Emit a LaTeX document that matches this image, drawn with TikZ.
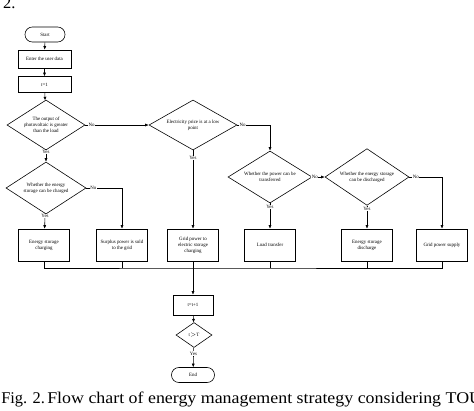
\documentclass[tikz,border=0pt]{standalone}
\usepackage{fontspec}
\setmainfont{Liberation Serif}
\usetikzlibrary{shapes.geometric,arrows.meta}
\newcommand{\boxfont}{\fontsize{4.2}{5}\selectfont}
\begin{document}
\begin{tikzpicture}[x=0.03cm,y=-0.03cm,line width=0.5pt,
  proc/.style={draw,rectangle,minimum width=1.53cm,minimum height=0.96cm,align=center,inner sep=1pt,font=\boxfont},
  term/.style={draw,rectangle,rounded corners=0.22cm,minimum width=1.2cm,minimum height=0.45cm,font=\boxfont},
  dec/.style={draw,diamond,aspect=1.55,inner sep=0pt,align=center,font=\boxfont},
  lab/.style={font=\boxfont,fill=white,inner sep=0.4pt},
  flow/.style={-{Latex[length=3pt,width=2.6pt]}}]
\useasboundingbox (0,0) rectangle (474,410);
\node[anchor=base west,font=\fontsize{14}{17}\selectfont](figTop) at (-1,8) {2.};
% main column
\node[term](start) at (45,34.5) {Start};
\node[proc,minimum width=1.59cm,minimum height=0.54cm](enter) at (44.5,59) {Enter the user data};
\node[proc,minimum width=1.59cm,minimum height=0.48cm](tOne) at (44.5,84.5) {t=1};
\node[dec,minimum width=2.34cm,minimum height=1.5cm](pvLoad) at (46,125) {The output of\\ photovoltaic is greater\\ than the load};
\node[dec,minimum width=2.4cm,minimum height=1.56cm](canCharge) at (46,188) {Whether the energy\\ storage can be charged};
\node[dec,minimum width=2.64cm,minimum height=1.5cm](valley) at (193,125) {Electricity price is at a low\\ point};
\node[dec,minimum width=2.52cm,minimum height=1.56cm](canShift) at (270,177) {Whether the power can be\\ transferred};
\node[dec,minimum width=2.52cm,minimum height=1.7cm](canDischarge) at (367,177) {Whether the energy storage\\ can be discharged};
% action boxes
\node[proc](charge) at (44,245) {Energy storage\\ charging};
\node[proc](sell) at (122,245) {Surplus power is sold\\ to the grid};
\node[proc](gridCharge) at (193,245) {Grid power to\\ electric storage\\ charging};
\node[proc](shift) at (270,245) {Load transfer};
\node[proc](discharge) at (367,245) {Energy storage\\ discharge};
\node[proc](gridSupply) at (442,245) {Grid power supply};
\coordinate (bus) at (193,268);
\node[proc,minimum width=1.2cm,minimum height=0.6cm](inc) at (193,305) {t=t+1};
\node[dec,minimum width=1.08cm,minimum height=0.75cm](last) at (194,335) {t$>$T};
\node[term,minimum width=1.29cm](stop) at (193,375) {End};

\draw[flow] (start) -- (enter);
\draw[flow] (enter) -- (tOne);
\draw[flow] (tOne) -- (pvLoad);
\draw[flow] (pvLoad) -- node[lab,pos=0.1]{No} (valley);
\draw[flow] (pvLoad) -- node[lab,pos=0.15]{Yes} (canCharge);
\draw[flow] (canCharge) -- node[lab,pos=0.15]{Yes} (charge);
\draw[flow] (canCharge.east) -| node[lab,pos=0.1]{No} (sell);
\draw[flow] (valley) -- node[lab,pos=0.1]{Yes} (gridCharge);
\draw[flow] (valley.east) -| node[lab,pos=0.08]{No} (canShift);
\draw[flow] (canShift) -- node[lab,pos=0.15]{Yes} (shift);
\draw[flow] (canShift) -- node[lab,pos=0.2]{No} (canDischarge);
\draw[flow] (canDischarge) -- node[lab,pos=0.15]{Yes} (discharge);
\draw[flow] (canDischarge.east) -| node[lab,pos=0.1]{No} (gridSupply);
% collect the branches
\draw (charge.south) |- (bus) -| (gridSupply.south);
\draw (sell.south) -- (sell.south |- bus);
\draw (shift.south) -- (shift.south |- bus);
\draw (discharge.south) -- (discharge.south |- bus);
\draw[flow] (gridCharge) -- (inc);
\draw[flow] (inc) -- (last);
\draw[flow] (last) -- node[lab,pos=0.3]{Yes} (stop);

\node[anchor=base west,inner sep=0pt,font=\fontsize{14}{17}\selectfont](figNum) at (1,403) {Fig. 2.};
\node[anchor=base west,inner sep=0pt,font=\fontsize{14}{17}\selectfont](caption) at (47,403) {\scalebox{1.09}[1]{Flow chart of energy management strategy considering TOU}};
\end{tikzpicture}
\end{document}
